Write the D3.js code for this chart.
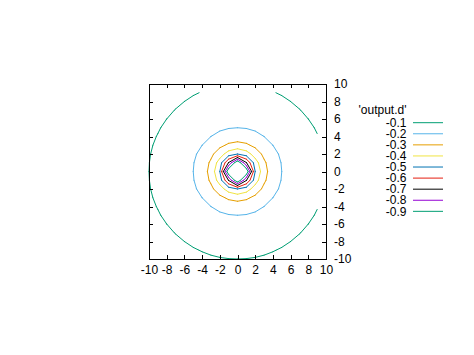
<!DOCTYPE html>
<html><head><meta charset="utf-8">
<script src="https://cdn.jsdelivr.net/npm/d3@7"></script>
<style>body{margin:0;background:#fff}svg{display:block}text{font-family:"Liberation Sans",Arial,sans-serif;font-size:12px;fill:#000}</style>
</head><body>
<svg id="c" width="474" height="355"></svg>
<script>
// grid coordinates of output.d
const xVals = [-10,-9,-8,-7,-6,-5,-4,-3,-2,-1,0,1,2,3,4,5,6,7,8,9];
const yVals = [-10,-9,-8,-7,-6,-5,-4,-3,-2,-1,0,1,2,3,4,5,6,7,8,9];
// z values, one row per y (from y=-10 to y=9), columns x=-10..9
const zRows = [
[-.0707,-.0743,-.0781,-.0819,-.0857,-.0894,-.0928,-.0958,-.0981,-.0995,-.1,-.0995,-.0981,-.0958,-.0928,-.0894,-.0857,-.0819,-.0781,-.0743],
[-.0743,-.0786,-.0830,-.0877,-.0925,-.0971,-.1015,-.1054,-.1085,-.1104,-.1111,-.1104,-.1085,-.1054,-.1015,-.0971,-.0925,-.0877,-.0830,-.0786],
[-.0781,-.0830,-.0884,-.0941,-.1,-.1060,-.1118,-.1170,-.1213,-.1240,-.125,-.1240,-.1213,-.1170,-.1118,-.1060,-.1,-.0941,-.0884,-.0830],
[-.0819,-.0877,-.0941,-.1010,-.1085,-.1162,-.1240,-.1313,-.1374,-.1414,-.1429,-.1414,-.1374,-.1313,-.1240,-.1162,-.1085,-.1010,-.0941,-.0877],
[-.0857,-.0925,-.1,-.1085,-.1179,-.1280,-.1387,-.1491,-.1581,-.1644,-.1667,-.1644,-.1581,-.1491,-.1387,-.1280,-.1179,-.1085,-.1,-.0925],
[-.0894,-.0971,-.1060,-.1162,-.1280,-.1414,-.1562,-.1715,-.1857,-.1961,-.2,-.1961,-.1857,-.1715,-.1562,-.1414,-.1280,-.1162,-.1060,-.0971],
[-.0928,-.1015,-.1118,-.1240,-.1387,-.1562,-.1768,-.2,-.2236,-.2425,-.25,-.2425,-.2236,-.2,-.1768,-.1562,-.1387,-.1240,-.1118,-.1015],
[-.0958,-.1054,-.1170,-.1313,-.1491,-.1715,-.2,-.2357,-.2774,-.3162,-.3333,-.3162,-.2774,-.2357,-.2,-.1715,-.1491,-.1313,-.1170,-.1054],
[-.0981,-.1085,-.1213,-.1374,-.1581,-.1857,-.2236,-.2774,-.3536,-.4472,-.5,-.4472,-.3536,-.2774,-.2236,-.1857,-.1581,-.1374,-.1213,-.1085],
[-.0995,-.1104,-.1240,-.1414,-.1644,-.1961,-.2425,-.3162,-.4472,-.7071,-1,-.7071,-.4472,-.3162,-.2425,-.1961,-.1644,-.1414,-.1240,-.1104],
[-.1,-.1111,-.125,-.1429,-.1667,-.2,-.25,-.3333,-.5,-1,-1.5,-1,-.5,-.3333,-.25,-.2,-.1667,-.1429,-.125,-.1111],
[-.0995,-.1104,-.1240,-.1414,-.1644,-.1961,-.2425,-.3162,-.4472,-.7071,-1,-.7071,-.4472,-.3162,-.2425,-.1961,-.1644,-.1414,-.1240,-.1104],
[-.0981,-.1085,-.1213,-.1374,-.1581,-.1857,-.2236,-.2774,-.3536,-.4472,-.5,-.4472,-.3536,-.2774,-.2236,-.1857,-.1581,-.1374,-.1213,-.1085],
[-.0958,-.1054,-.1170,-.1313,-.1491,-.1715,-.2,-.2357,-.2774,-.3162,-.3333,-.3162,-.2774,-.2357,-.2,-.1715,-.1491,-.1313,-.1170,-.1054],
[-.0928,-.1015,-.1118,-.1240,-.1387,-.1562,-.1768,-.2,-.2236,-.2425,-.25,-.2425,-.2236,-.2,-.1768,-.1562,-.1387,-.1240,-.1118,-.1015],
[-.0894,-.0971,-.1060,-.1162,-.1280,-.1414,-.1562,-.1715,-.1857,-.1961,-.2,-.1961,-.1857,-.1715,-.1562,-.1414,-.1280,-.1162,-.1060,-.0971],
[-.0857,-.0925,-.1,-.1085,-.1179,-.1280,-.1387,-.1491,-.1581,-.1644,-.1667,-.1644,-.1581,-.1491,-.1387,-.1280,-.1179,-.1085,-.1,-.0925],
[-.0819,-.0877,-.0941,-.1010,-.1085,-.1162,-.1240,-.1313,-.1374,-.1414,-.1429,-.1414,-.1374,-.1313,-.1240,-.1162,-.1085,-.1010,-.0941,-.0877],
[-.0781,-.0830,-.0884,-.0941,-.1,-.1060,-.1118,-.1170,-.1213,-.1240,-.125,-.1240,-.1213,-.1170,-.1118,-.1060,-.1,-.0941,-.0884,-.0830],
[-.0743,-.0786,-.0830,-.0877,-.0925,-.0971,-.1015,-.1054,-.1085,-.1104,-.1111,-.1104,-.1085,-.1054,-.1015,-.0971,-.0925,-.0877,-.0830,-.0786]
];
const levels = [-0.1,-0.2,-0.3,-0.4,-0.5,-0.6,-0.7,-0.8,-0.9];
const levelLabels = ["-0.1","-0.2","-0.3","-0.4","-0.5","-0.6","-0.7","-0.8","-0.9"];
const colors = ["#009e73","#56b4e9","#e69f00","#f0e442","#0072b2","#e51e10","#000000","#9400d3","#009e73"];
const xTicks = [-10,-8,-6,-4,-2,0,2,4,6,8,10];
const yTicks = [-10,-8,-6,-4,-2,0,2,4,6,8,10];
const legendTitle = "'output.d'";

const svg = d3.select("#c");
const L = 149, R = 326, T = 84, B = 259;
const x = d3.scaleLinear().domain([-10,10]).range([L,R]);
const y = d3.scaleLinear().domain([-10,10]).range([B,T]);

function segmentsFor(level){
  const segs = [];
  for (let j = 0; j < yVals.length-1; j++) for (let i = 0; i < xVals.length-1; i++){
    const c = [[i,j],[i+1,j],[i+1,j+1],[i,j+1]];
    const pts = [];
    for (let e = 0; e < 4; e++){
      const [i0,j0] = c[e], [i1,j1] = c[(e+1)%4];
      const v0 = zRows[j0][i0], v1 = zRows[j1][i1];
      if ((v0 < level) !== (v1 < level)){
        const t = (level - v0)/(v1 - v0);
        pts.push([xVals[i0] + t*(xVals[i1]-xVals[i0]), yVals[j0] + t*(yVals[j1]-yVals[j0])]);
      }
    }
    for (let k = 0; k+1 < pts.length; k += 2) segs.push([pts[k], pts[k+1]]);
  }
  return segs;
}
const line = d3.line().x(d => x(d[0])).y(d => y(d[1]));

const g = svg.append("g");
levels.forEach((lv, k) => {
  const segs = segmentsFor(lv);
  g.append("path").attr("d", segs.map(s => line(s)).join(""))
    .attr("fill","none").attr("stroke",colors[k]).attr("stroke-width",1)
    .attr("stroke-linecap","round").attr("stroke-linejoin","round");
});

// axes (ticks inward, mirrored)
const fmt = d => String(d);
const ax = svg.append("g").attr("shape-rendering","crispEdges");
ax.append("g").attr("transform",`translate(0,${B})`)
  .call(d3.axisBottom(x).tickValues(xTicks).tickFormat(fmt).tickSizeInner(-4).tickSizeOuter(0).tickPadding(6));
ax.append("g").attr("transform",`translate(0,${T})`)
  .call(d3.axisTop(x).tickValues(xTicks).tickSizeInner(-4).tickSizeOuter(0).tickFormat(""));
ax.append("g").attr("transform",`translate(${L},0)`)
  .call(d3.axisLeft(y).tickValues(yTicks).tickSizeInner(-4).tickSizeOuter(0).tickFormat(""));
ax.append("g").attr("transform",`translate(${R},0)`)
  .call(d3.axisRight(y).tickValues(yTicks).tickFormat(fmt).tickSizeInner(-4).tickSizeOuter(0).tickPadding(8));
ax.selectAll(".domain").remove();
ax.selectAll("text").attr("font-size",12).attr("font-family","Liberation Sans, Arial, sans-serif").attr("fill","#000");
ax.selectAll(".tick line").attr("stroke","#000");
ax.append("rect").attr("x",L).attr("y",T).attr("width",R-L).attr("height",B-T)
  .attr("fill","none").attr("stroke","#000").attr("stroke-width",1);

// legend
const lg = svg.append("g");
lg.append("text").attr("x",406.5).attr("y",110).attr("dy","0.35em").attr("text-anchor","end").text(legendTitle);
levelLabels.forEach((lab,k) => {
  const yy = 122.7 + k*11.08;
  lg.append("text").attr("x",406.5).attr("y",yy).attr("dy","0.35em").attr("text-anchor","end").text(lab);
  lg.append("line").attr("x1",413).attr("x2",443).attr("y1",yy).attr("y2",yy)
    .attr("stroke",colors[k]).attr("stroke-width",1);
});
</script>
</body></html>
